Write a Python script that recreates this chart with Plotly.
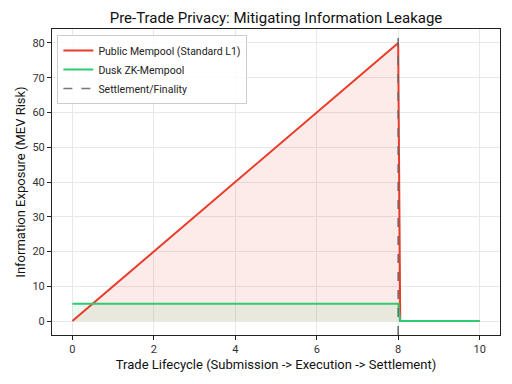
import plotly.graph_objects as go

# Data
time_pts = [0, 8, 8.05, 10]
public_mempool = [0, 80, 0, 0]
dusk_mempool = [5, 5, 0, 0]
settlement_x = 8

RED = "#ea3b2a"
GREEN = "#2ecc71"
FONT = "Roboto, Inter, sans-serif"

fig = go.Figure()
fig.add_trace(go.Scatter(x=time_pts, y=public_mempool, mode="lines", line=dict(width=0),
                         fill="tozeroy", fillcolor="rgba(234,59,42,0.1)", showlegend=False, hoverinfo="skip"))
fig.add_trace(go.Scatter(x=time_pts, y=dusk_mempool, mode="lines", line=dict(width=0),
                         fill="tozeroy", fillcolor="rgba(46,204,113,0.1)", showlegend=False, hoverinfo="skip"))
fig.add_trace(go.Scatter(x=time_pts, y=public_mempool, mode="lines", name="Public Mempool (Standard L1)",
                         line=dict(color=RED, width=2)))
fig.add_trace(go.Scatter(x=time_pts, y=dusk_mempool, mode="lines", name="Dusk ZK-Mempool",
                         line=dict(color=GREEN, width=2)))
fig.add_trace(go.Scatter(x=[None], y=[None], mode="lines", name="Settlement/Finality",
                         line=dict(color="#777777", width=1.5, dash="dash")))
fig.add_vline(x=settlement_x, line=dict(color="#666666", width=1.5, dash="dash"))

axis_common = dict(showline=True, linecolor="#222222", linewidth=1, mirror=True,
                   ticks="outside", ticklen=4, tickcolor="#222222",
                   showgrid=True, gridcolor="#e8e8e8", gridwidth=1, zeroline=False,
                   automargin=False,
                   tickfont=dict(size=11, color="#333333", family=FONT))

fig.update_xaxes(range=[-0.5, 10.5], tickvals=[0, 2, 4, 6, 8, 10],
                 title=dict(text="Trade Lifecycle (Submission -> Execution -> Settlement)",
                            font=dict(size=13, color="#111111", family=FONT), standoff=4),
                 **axis_common)
fig.update_yaxes(range=[-4, 84], tickvals=list(range(0, 81, 10)),
                 title=dict(text="Information Exposure (MEV Risk)",
                            font=dict(size=13, color="#111111", family=FONT), standoff=3),
                 **axis_common)

fig.update_layout(
    width=512, height=384,
    margin=dict(l=52, r=12, t=29, b=49),
    paper_bgcolor="white", plot_bgcolor="white",
    font=dict(family=FONT, color="#222222"),
    title=dict(text="Pre-Trade Privacy: Mitigating Information Leakage",
               font=dict(size=15, color="#111111", family=FONT),
               x=0.5, xref="paper", xanchor="center", y=0.955, yanchor="middle"),
    legend=dict(x=0.012, y=0.98, xanchor="left", yanchor="top",
                bgcolor="rgba(255,255,255,0.85)", bordercolor="#cccccc", borderwidth=1,
                font=dict(size=10.5, color="#222222", family=FONT),
                tracegroupgap=0, itemwidth=30),
)

fig.write_html("out.html", config={"displayModeBar": False},
               post_script="document.body.style.margin='0';")
